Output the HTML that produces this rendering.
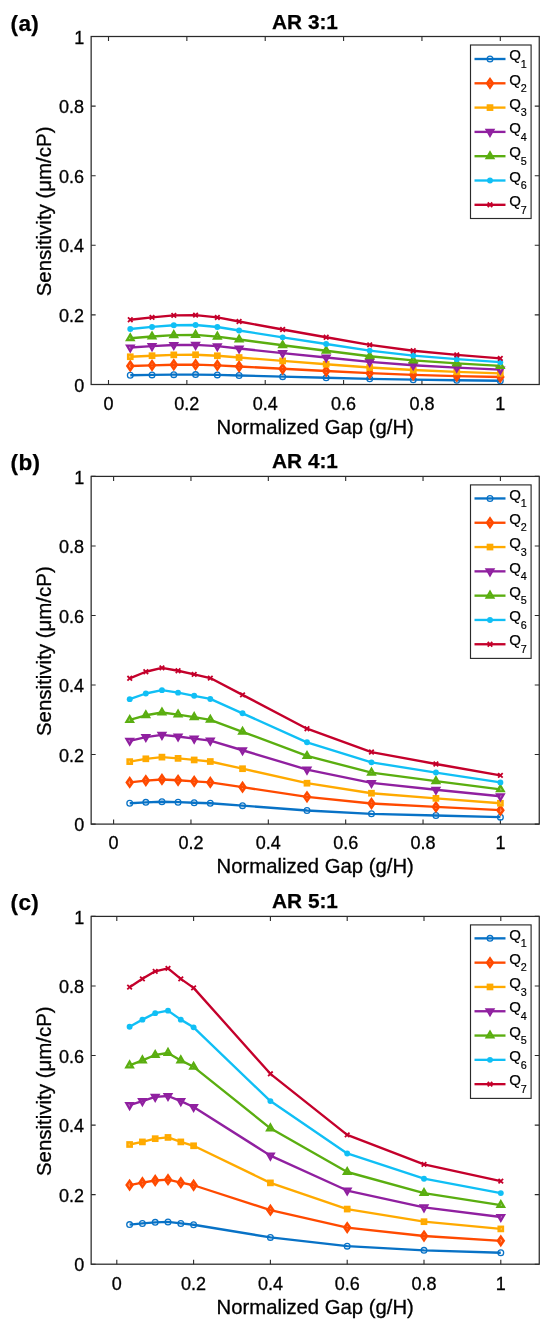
<!DOCTYPE html>
<html lang="en"><head><meta charset="utf-8"><title>Sensitivity vs Normalized Gap</title>
<style>html,body{margin:0;padding:0;background:#fff}svg{display:block}</style></head>
<body>
<svg width="550" height="1325" viewBox="0 0 550 1325" font-family='"Liberation Sans", Arial, Helvetica, sans-serif'>
<rect width="550" height="1325" fill="#fff"/>
<path d="M108.5 384.5v-4.5M108.5 36.5v4.5M91.15 384.5h4.5M539.25 384.5h-4.5M186.86 384.5v-4.5M186.86 36.5v4.5M91.15 314.9h4.5M539.25 314.9h-4.5M265.22 384.5v-4.5M265.22 36.5v4.5M91.15 245.3h4.5M539.25 245.3h-4.5M343.58 384.5v-4.5M343.58 36.5v4.5M91.15 175.7h4.5M539.25 175.7h-4.5M421.94 384.5v-4.5M421.94 36.5v4.5M91.15 106.1h4.5M539.25 106.1h-4.5M500.3 384.5v-4.5M500.3 36.5v4.5M91.15 36.5h4.5M539.25 36.5h-4.5" stroke="#2a2a2a" stroke-width="1.1" fill="none"/>
<rect x="91.15" y="36.5" width="448.1" height="348" fill="none" stroke="#2a2a2a" stroke-width="1.25"/>
<g font-size="18" fill="#000" stroke="#000" stroke-width="0.3">
<text x="108.5" y="409.8" text-anchor="middle">0</text>
<text x="84.15" y="391.6" text-anchor="end">0</text>
<text x="186.86" y="409.8" text-anchor="middle">0.2</text>
<text x="84.15" y="322" text-anchor="end">0.2</text>
<text x="265.22" y="409.8" text-anchor="middle">0.4</text>
<text x="84.15" y="252.4" text-anchor="end">0.4</text>
<text x="343.58" y="409.8" text-anchor="middle">0.6</text>
<text x="84.15" y="182.8" text-anchor="end">0.6</text>
<text x="421.94" y="409.8" text-anchor="middle">0.8</text>
<text x="84.15" y="113.2" text-anchor="end">0.8</text>
<text x="500.3" y="409.8" text-anchor="middle">1</text>
<text x="84.15" y="43.6" text-anchor="end">1</text>
</g>
<text x="315.2" y="433.8" font-size="20.3" fill="#000" stroke="#000" stroke-width="0.3" text-anchor="middle">Normalized Gap (g/H)</text>
<text transform="translate(50.5 211.4) rotate(-90)" font-size="20.47" fill="#000" stroke="#000" stroke-width="0.3" text-anchor="middle">Sensitivity (μm/cP)</text>
<text x="305" y="28.6" font-size="20.8" font-weight="bold" fill="#000" stroke="#000" stroke-width="0.25" text-anchor="middle">AR 3:1</text>
<text x="10.6" y="30.8" font-size="22.5" letter-spacing="0.3" font-weight="bold" fill="#000" stroke="#000" stroke-width="0.25">(a)</text>
<polyline points="130.27,375.25 152.03,374.91 173.8,374.63 195.57,374.58 217.33,374.92 239.1,375.5 282.63,376.65 326.17,377.75 369.7,378.85 413.23,379.68 456.77,380.27 500.3,380.77" fill="none" stroke="#0872C6" stroke-width="2.35" stroke-linejoin="round"/>
<circle cx="130.27" cy="375.25" r="2.85" stroke="#0872C6" stroke-width="1.3" fill="#0872C6" fill-opacity="0" stroke-linejoin="miter"/><circle cx="152.03" cy="374.91" r="2.85" stroke="#0872C6" stroke-width="1.3" fill="#0872C6" fill-opacity="0" stroke-linejoin="miter"/><circle cx="173.8" cy="374.63" r="2.85" stroke="#0872C6" stroke-width="1.3" fill="#0872C6" fill-opacity="0" stroke-linejoin="miter"/><circle cx="195.57" cy="374.58" r="2.85" stroke="#0872C6" stroke-width="1.3" fill="#0872C6" fill-opacity="0" stroke-linejoin="miter"/><circle cx="217.33" cy="374.92" r="2.85" stroke="#0872C6" stroke-width="1.3" fill="#0872C6" fill-opacity="0" stroke-linejoin="miter"/><circle cx="239.1" cy="375.5" r="2.85" stroke="#0872C6" stroke-width="1.3" fill="#0872C6" fill-opacity="0" stroke-linejoin="miter"/><circle cx="282.63" cy="376.65" r="2.85" stroke="#0872C6" stroke-width="1.3" fill="#0872C6" fill-opacity="0" stroke-linejoin="miter"/><circle cx="326.17" cy="377.75" r="2.85" stroke="#0872C6" stroke-width="1.3" fill="#0872C6" fill-opacity="0" stroke-linejoin="miter"/><circle cx="369.7" cy="378.85" r="2.85" stroke="#0872C6" stroke-width="1.3" fill="#0872C6" fill-opacity="0" stroke-linejoin="miter"/><circle cx="413.23" cy="379.68" r="2.85" stroke="#0872C6" stroke-width="1.3" fill="#0872C6" fill-opacity="0" stroke-linejoin="miter"/><circle cx="456.77" cy="380.27" r="2.85" stroke="#0872C6" stroke-width="1.3" fill="#0872C6" fill-opacity="0" stroke-linejoin="miter"/><circle cx="500.3" cy="380.77" r="2.85" stroke="#0872C6" stroke-width="1.3" fill="#0872C6" fill-opacity="0" stroke-linejoin="miter"/>
<polyline points="130.27,366.01 152.03,365.31 173.8,364.75 195.57,364.66 217.33,365.34 239.1,366.5 282.63,368.79 326.17,371.01 369.7,373.19 413.23,374.86 456.77,376.05 500.3,377.04" fill="none" stroke="#FF4A00" stroke-width="2.35" stroke-linejoin="round"/>
<path d="M130.27 361.81L133.17 366.01L130.27 370.21L127.37 366.01Z" stroke="#FF4A00" stroke-width="2.5" fill="#FF4A00" fill-opacity="0.5" stroke-linejoin="miter"/><path d="M152.03 361.11L154.93 365.31L152.03 369.51L149.13 365.31Z" stroke="#FF4A00" stroke-width="2.5" fill="#FF4A00" fill-opacity="0.5" stroke-linejoin="miter"/><path d="M173.8 360.55L176.7 364.75L173.8 368.95L170.9 364.75Z" stroke="#FF4A00" stroke-width="2.5" fill="#FF4A00" fill-opacity="0.5" stroke-linejoin="miter"/><path d="M195.57 360.46L198.47 364.66L195.57 368.86L192.67 364.66Z" stroke="#FF4A00" stroke-width="2.5" fill="#FF4A00" fill-opacity="0.5" stroke-linejoin="miter"/><path d="M217.33 361.14L220.23 365.34L217.33 369.54L214.43 365.34Z" stroke="#FF4A00" stroke-width="2.5" fill="#FF4A00" fill-opacity="0.5" stroke-linejoin="miter"/><path d="M239.1 362.3L242 366.5L239.1 370.7L236.2 366.5Z" stroke="#FF4A00" stroke-width="2.5" fill="#FF4A00" fill-opacity="0.5" stroke-linejoin="miter"/><path d="M282.63 364.59L285.53 368.79L282.63 372.99L279.73 368.79Z" stroke="#FF4A00" stroke-width="2.5" fill="#FF4A00" fill-opacity="0.5" stroke-linejoin="miter"/><path d="M326.17 366.81L329.07 371.01L326.17 375.21L323.27 371.01Z" stroke="#FF4A00" stroke-width="2.5" fill="#FF4A00" fill-opacity="0.5" stroke-linejoin="miter"/><path d="M369.7 368.99L372.6 373.19L369.7 377.39L366.8 373.19Z" stroke="#FF4A00" stroke-width="2.5" fill="#FF4A00" fill-opacity="0.5" stroke-linejoin="miter"/><path d="M413.23 370.66L416.13 374.86L413.23 379.06L410.33 374.86Z" stroke="#FF4A00" stroke-width="2.5" fill="#FF4A00" fill-opacity="0.5" stroke-linejoin="miter"/><path d="M456.77 371.85L459.67 376.05L456.77 380.25L453.87 376.05Z" stroke="#FF4A00" stroke-width="2.5" fill="#FF4A00" fill-opacity="0.5" stroke-linejoin="miter"/><path d="M500.3 372.84L503.2 377.04L500.3 381.24L497.4 377.04Z" stroke="#FF4A00" stroke-width="2.5" fill="#FF4A00" fill-opacity="0.5" stroke-linejoin="miter"/>
<polyline points="130.27,356.76 152.03,355.72 173.8,354.88 195.57,354.75 217.33,355.76 239.1,357.51 282.63,360.94 326.17,364.26 369.7,367.54 413.23,370.03 456.77,371.82 500.3,373.31" fill="none" stroke="#FFAA00" stroke-width="2.35" stroke-linejoin="round"/>
<rect x="128.17" y="354.66" width="4.2" height="4.2" stroke="#FFAA00" stroke-width="2.5" fill="#FFAA00" fill-opacity="0.5" stroke-linejoin="miter"/><rect x="149.93" y="353.62" width="4.2" height="4.2" stroke="#FFAA00" stroke-width="2.5" fill="#FFAA00" fill-opacity="0.5" stroke-linejoin="miter"/><rect x="171.7" y="352.78" width="4.2" height="4.2" stroke="#FFAA00" stroke-width="2.5" fill="#FFAA00" fill-opacity="0.5" stroke-linejoin="miter"/><rect x="193.47" y="352.65" width="4.2" height="4.2" stroke="#FFAA00" stroke-width="2.5" fill="#FFAA00" fill-opacity="0.5" stroke-linejoin="miter"/><rect x="215.23" y="353.66" width="4.2" height="4.2" stroke="#FFAA00" stroke-width="2.5" fill="#FFAA00" fill-opacity="0.5" stroke-linejoin="miter"/><rect x="237" y="355.41" width="4.2" height="4.2" stroke="#FFAA00" stroke-width="2.5" fill="#FFAA00" fill-opacity="0.5" stroke-linejoin="miter"/><rect x="280.53" y="358.84" width="4.2" height="4.2" stroke="#FFAA00" stroke-width="2.5" fill="#FFAA00" fill-opacity="0.5" stroke-linejoin="miter"/><rect x="324.07" y="362.16" width="4.2" height="4.2" stroke="#FFAA00" stroke-width="2.5" fill="#FFAA00" fill-opacity="0.5" stroke-linejoin="miter"/><rect x="367.6" y="365.44" width="4.2" height="4.2" stroke="#FFAA00" stroke-width="2.5" fill="#FFAA00" fill-opacity="0.5" stroke-linejoin="miter"/><rect x="411.13" y="367.93" width="4.2" height="4.2" stroke="#FFAA00" stroke-width="2.5" fill="#FFAA00" fill-opacity="0.5" stroke-linejoin="miter"/><rect x="454.67" y="369.72" width="4.2" height="4.2" stroke="#FFAA00" stroke-width="2.5" fill="#FFAA00" fill-opacity="0.5" stroke-linejoin="miter"/><rect x="498.2" y="371.21" width="4.2" height="4.2" stroke="#FFAA00" stroke-width="2.5" fill="#FFAA00" fill-opacity="0.5" stroke-linejoin="miter"/>
<polyline points="130.27,347.51 152.03,346.12 173.8,345.01 195.57,344.83 217.33,346.18 239.1,348.51 282.63,353.08 326.17,357.52 369.7,361.89 413.23,365.21 456.77,367.6 500.3,369.59" fill="none" stroke="#9020A0" stroke-width="2.35" stroke-linejoin="round"/>
<path d="M126.92 345.58L133.62 345.58L130.27 351.38Z" stroke="#9020A0" stroke-width="2.2" fill="#9020A0" fill-opacity="0.5" stroke-linejoin="miter"/><path d="M148.68 344.19L155.38 344.19L152.03 349.99Z" stroke="#9020A0" stroke-width="2.2" fill="#9020A0" fill-opacity="0.5" stroke-linejoin="miter"/><path d="M170.45 343.08L177.15 343.08L173.8 348.88Z" stroke="#9020A0" stroke-width="2.2" fill="#9020A0" fill-opacity="0.5" stroke-linejoin="miter"/><path d="M192.22 342.9L198.92 342.9L195.57 348.7Z" stroke="#9020A0" stroke-width="2.2" fill="#9020A0" fill-opacity="0.5" stroke-linejoin="miter"/><path d="M213.98 344.25L220.68 344.25L217.33 350.05Z" stroke="#9020A0" stroke-width="2.2" fill="#9020A0" fill-opacity="0.5" stroke-linejoin="miter"/><path d="M235.75 346.58L242.45 346.58L239.1 352.38Z" stroke="#9020A0" stroke-width="2.2" fill="#9020A0" fill-opacity="0.5" stroke-linejoin="miter"/><path d="M279.28 351.15L285.98 351.15L282.63 356.95Z" stroke="#9020A0" stroke-width="2.2" fill="#9020A0" fill-opacity="0.5" stroke-linejoin="miter"/><path d="M322.82 355.59L329.52 355.59L326.17 361.39Z" stroke="#9020A0" stroke-width="2.2" fill="#9020A0" fill-opacity="0.5" stroke-linejoin="miter"/><path d="M366.35 359.96L373.05 359.96L369.7 365.76Z" stroke="#9020A0" stroke-width="2.2" fill="#9020A0" fill-opacity="0.5" stroke-linejoin="miter"/><path d="M409.88 363.28L416.58 363.28L413.23 369.08Z" stroke="#9020A0" stroke-width="2.2" fill="#9020A0" fill-opacity="0.5" stroke-linejoin="miter"/><path d="M453.42 365.67L460.12 365.67L456.77 371.47Z" stroke="#9020A0" stroke-width="2.2" fill="#9020A0" fill-opacity="0.5" stroke-linejoin="miter"/><path d="M496.95 367.66L503.65 367.66L500.3 373.46Z" stroke="#9020A0" stroke-width="2.2" fill="#9020A0" fill-opacity="0.5" stroke-linejoin="miter"/>
<polyline points="130.27,338.27 152.03,336.53 173.8,335.13 195.57,334.91 217.33,336.6 239.1,339.51 282.63,345.23 326.17,350.77 369.7,356.24 413.23,360.39 456.77,363.37 500.3,365.86" fill="none" stroke="#5AAE10" stroke-width="2.35" stroke-linejoin="round"/>
<path d="M126.92 340.2L133.62 340.2L130.27 334.4Z" stroke="#5AAE10" stroke-width="2.2" fill="#5AAE10" fill-opacity="0.5" stroke-linejoin="miter"/><path d="M148.68 338.46L155.38 338.46L152.03 332.66Z" stroke="#5AAE10" stroke-width="2.2" fill="#5AAE10" fill-opacity="0.5" stroke-linejoin="miter"/><path d="M170.45 337.06L177.15 337.06L173.8 331.26Z" stroke="#5AAE10" stroke-width="2.2" fill="#5AAE10" fill-opacity="0.5" stroke-linejoin="miter"/><path d="M192.22 336.84L198.92 336.84L195.57 331.04Z" stroke="#5AAE10" stroke-width="2.2" fill="#5AAE10" fill-opacity="0.5" stroke-linejoin="miter"/><path d="M213.98 338.53L220.68 338.53L217.33 332.73Z" stroke="#5AAE10" stroke-width="2.2" fill="#5AAE10" fill-opacity="0.5" stroke-linejoin="miter"/><path d="M235.75 341.44L242.45 341.44L239.1 335.64Z" stroke="#5AAE10" stroke-width="2.2" fill="#5AAE10" fill-opacity="0.5" stroke-linejoin="miter"/><path d="M279.28 347.16L285.98 347.16L282.63 341.36Z" stroke="#5AAE10" stroke-width="2.2" fill="#5AAE10" fill-opacity="0.5" stroke-linejoin="miter"/><path d="M322.82 352.7L329.52 352.7L326.17 346.9Z" stroke="#5AAE10" stroke-width="2.2" fill="#5AAE10" fill-opacity="0.5" stroke-linejoin="miter"/><path d="M366.35 358.17L373.05 358.17L369.7 352.37Z" stroke="#5AAE10" stroke-width="2.2" fill="#5AAE10" fill-opacity="0.5" stroke-linejoin="miter"/><path d="M409.88 362.32L416.58 362.32L413.23 356.52Z" stroke="#5AAE10" stroke-width="2.2" fill="#5AAE10" fill-opacity="0.5" stroke-linejoin="miter"/><path d="M453.42 365.3L460.12 365.3L456.77 359.5Z" stroke="#5AAE10" stroke-width="2.2" fill="#5AAE10" fill-opacity="0.5" stroke-linejoin="miter"/><path d="M496.95 367.79L503.65 367.79L500.3 361.99Z" stroke="#5AAE10" stroke-width="2.2" fill="#5AAE10" fill-opacity="0.5" stroke-linejoin="miter"/>
<polyline points="130.27,329.02 152.03,326.93 173.8,325.26 195.57,324.99 217.33,327.02 239.1,330.51 282.63,337.37 326.17,344.02 369.7,350.58 413.23,355.57 456.77,359.15 500.3,362.13" fill="none" stroke="#10BFF5" stroke-width="2.35" stroke-linejoin="round"/>
<circle cx="130.27" cy="329.02" r="2.95" fill="#10BFF5"/><circle cx="152.03" cy="326.93" r="2.95" fill="#10BFF5"/><circle cx="173.8" cy="325.26" r="2.95" fill="#10BFF5"/><circle cx="195.57" cy="324.99" r="2.95" fill="#10BFF5"/><circle cx="217.33" cy="327.02" r="2.95" fill="#10BFF5"/><circle cx="239.1" cy="330.51" r="2.95" fill="#10BFF5"/><circle cx="282.63" cy="337.37" r="2.95" fill="#10BFF5"/><circle cx="326.17" cy="344.02" r="2.95" fill="#10BFF5"/><circle cx="369.7" cy="350.58" r="2.95" fill="#10BFF5"/><circle cx="413.23" cy="355.57" r="2.95" fill="#10BFF5"/><circle cx="456.77" cy="359.15" r="2.95" fill="#10BFF5"/><circle cx="500.3" cy="362.13" r="2.95" fill="#10BFF5"/>
<polyline points="130.27,319.77 152.03,317.34 173.8,315.39 195.57,315.07 217.33,317.44 239.1,321.51 282.63,329.52 326.17,337.28 369.7,344.93 413.23,350.74 456.77,354.92 500.3,358.4" fill="none" stroke="#C4002B" stroke-width="2.35" stroke-linejoin="round"/>
<path d="M127.97 317.47L132.57 322.07M127.97 322.07L132.57 317.47" stroke="#C4002B" stroke-width="1.8" fill="none"/><path d="M149.73 315.04L154.33 319.64M149.73 319.64L154.33 315.04" stroke="#C4002B" stroke-width="1.8" fill="none"/><path d="M171.5 313.09L176.1 317.69M171.5 317.69L176.1 313.09" stroke="#C4002B" stroke-width="1.8" fill="none"/><path d="M193.27 312.77L197.87 317.37M193.27 317.37L197.87 312.77" stroke="#C4002B" stroke-width="1.8" fill="none"/><path d="M215.03 315.14L219.63 319.74M215.03 319.74L219.63 315.14" stroke="#C4002B" stroke-width="1.8" fill="none"/><path d="M236.8 319.21L241.4 323.81M236.8 323.81L241.4 319.21" stroke="#C4002B" stroke-width="1.8" fill="none"/><path d="M280.33 327.22L284.93 331.82M280.33 331.82L284.93 327.22" stroke="#C4002B" stroke-width="1.8" fill="none"/><path d="M323.87 334.98L328.47 339.58M323.87 339.58L328.47 334.98" stroke="#C4002B" stroke-width="1.8" fill="none"/><path d="M367.4 342.63L372 347.23M367.4 347.23L372 342.63" stroke="#C4002B" stroke-width="1.8" fill="none"/><path d="M410.93 348.44L415.53 353.04M410.93 353.04L415.53 348.44" stroke="#C4002B" stroke-width="1.8" fill="none"/><path d="M454.47 352.62L459.07 357.22M454.47 357.22L459.07 352.62" stroke="#C4002B" stroke-width="1.8" fill="none"/><path d="M498 356.1L502.6 360.7M498 360.7L502.6 356.1" stroke="#C4002B" stroke-width="1.8" fill="none"/>
<rect x="470.5" y="45" width="60.6" height="173.5" fill="#fff" stroke="#2a2a2a" stroke-width="1.15"/>
<path d="M474.5 59H505.5" stroke="#0872C6" stroke-width="2.35"/>
<circle cx="490" cy="59" r="2.85" stroke="#0872C6" stroke-width="1.3" fill="#0872C6" fill-opacity="0" stroke-linejoin="miter"/>
<text x="509.2" y="60.2" font-size="15" fill="#000" stroke="#000" stroke-width="0.2">Q<tspan dy="7.5" font-size="10.8">1</tspan></text>
<path d="M474.5 83.3H505.5" stroke="#FF4A00" stroke-width="2.35"/>
<path d="M490 79.1L492.9 83.3L490 87.5L487.1 83.3Z" stroke="#FF4A00" stroke-width="2.5" fill="#FF4A00" fill-opacity="0.5" stroke-linejoin="miter"/>
<text x="509.2" y="84.5" font-size="15" fill="#000" stroke="#000" stroke-width="0.2">Q<tspan dy="7.5" font-size="10.8">2</tspan></text>
<path d="M474.5 107.6H505.5" stroke="#FFAA00" stroke-width="2.35"/>
<rect x="487.9" y="105.5" width="4.2" height="4.2" stroke="#FFAA00" stroke-width="2.5" fill="#FFAA00" fill-opacity="0.5" stroke-linejoin="miter"/>
<text x="509.2" y="108.8" font-size="15" fill="#000" stroke="#000" stroke-width="0.2">Q<tspan dy="7.5" font-size="10.8">3</tspan></text>
<path d="M474.5 131.9H505.5" stroke="#9020A0" stroke-width="2.35"/>
<path d="M486.65 129.97L493.35 129.97L490 135.77Z" stroke="#9020A0" stroke-width="2.2" fill="#9020A0" fill-opacity="0.5" stroke-linejoin="miter"/>
<text x="509.2" y="133.1" font-size="15" fill="#000" stroke="#000" stroke-width="0.2">Q<tspan dy="7.5" font-size="10.8">4</tspan></text>
<path d="M474.5 156.2H505.5" stroke="#5AAE10" stroke-width="2.35"/>
<path d="M486.65 158.13L493.35 158.13L490 152.33Z" stroke="#5AAE10" stroke-width="2.2" fill="#5AAE10" fill-opacity="0.5" stroke-linejoin="miter"/>
<text x="509.2" y="157.4" font-size="15" fill="#000" stroke="#000" stroke-width="0.2">Q<tspan dy="7.5" font-size="10.8">5</tspan></text>
<path d="M474.5 180.5H505.5" stroke="#10BFF5" stroke-width="2.35"/>
<circle cx="490" cy="180.5" r="2.95" fill="#10BFF5"/>
<text x="509.2" y="181.7" font-size="15" fill="#000" stroke="#000" stroke-width="0.2">Q<tspan dy="7.5" font-size="10.8">6</tspan></text>
<path d="M474.5 204.8H505.5" stroke="#C4002B" stroke-width="2.35"/>
<path d="M487.7 202.5L492.3 207.1M487.7 207.1L492.3 202.5" stroke="#C4002B" stroke-width="1.8" fill="none"/>
<text x="509.2" y="206" font-size="15" fill="#000" stroke="#000" stroke-width="0.2">Q<tspan dy="7.5" font-size="10.8">7</tspan></text>
<path d="M113.6 824.1v-4.5M113.6 476.4v4.5M91.15 824.1h4.5M539.25 824.1h-4.5M190.96 824.1v-4.5M190.96 476.4v4.5M91.15 754.56h4.5M539.25 754.56h-4.5M268.32 824.1v-4.5M268.32 476.4v4.5M91.15 685.02h4.5M539.25 685.02h-4.5M345.68 824.1v-4.5M345.68 476.4v4.5M91.15 615.48h4.5M539.25 615.48h-4.5M423.04 824.1v-4.5M423.04 476.4v4.5M91.15 545.94h4.5M539.25 545.94h-4.5M500.4 824.1v-4.5M500.4 476.4v4.5M91.15 476.4h4.5M539.25 476.4h-4.5" stroke="#2a2a2a" stroke-width="1.1" fill="none"/>
<rect x="91.15" y="476.4" width="448.1" height="347.7" fill="none" stroke="#2a2a2a" stroke-width="1.25"/>
<g font-size="18" fill="#000" stroke="#000" stroke-width="0.3">
<text x="113.6" y="849.4" text-anchor="middle">0</text>
<text x="84.15" y="831.2" text-anchor="end">0</text>
<text x="190.96" y="849.4" text-anchor="middle">0.2</text>
<text x="84.15" y="761.66" text-anchor="end">0.2</text>
<text x="268.32" y="849.4" text-anchor="middle">0.4</text>
<text x="84.15" y="692.12" text-anchor="end">0.4</text>
<text x="345.68" y="849.4" text-anchor="middle">0.6</text>
<text x="84.15" y="622.58" text-anchor="end">0.6</text>
<text x="423.04" y="849.4" text-anchor="middle">0.8</text>
<text x="84.15" y="553.04" text-anchor="end">0.8</text>
<text x="500.4" y="849.4" text-anchor="middle">1</text>
<text x="84.15" y="483.5" text-anchor="end">1</text>
</g>
<text x="315.2" y="873.4" font-size="20.3" fill="#000" stroke="#000" stroke-width="0.3" text-anchor="middle">Normalized Gap (g/H)</text>
<text transform="translate(50.5 651.15) rotate(-90)" font-size="20.47" fill="#000" stroke="#000" stroke-width="0.3" text-anchor="middle">Sensitivity (μm/cP)</text>
<text x="305" y="468" font-size="20.8" font-weight="bold" fill="#000" stroke="#000" stroke-width="0.25" text-anchor="middle">AR 4:1</text>
<text x="10.6" y="470.2" font-size="22.5" letter-spacing="0.3" font-weight="bold" fill="#000" stroke="#000" stroke-width="0.25">(b)</text>
<polyline points="129.72,803.27 145.83,802.33 161.95,801.78 178.07,802.19 194.18,802.72 210.3,803.24 242.53,805.64 307,810.47 371.47,813.81 435.93,815.51 500.4,817.15" fill="none" stroke="#0872C6" stroke-width="2.35" stroke-linejoin="round"/>
<circle cx="129.72" cy="803.27" r="2.85" stroke="#0872C6" stroke-width="1.3" fill="#0872C6" fill-opacity="0" stroke-linejoin="miter"/><circle cx="145.83" cy="802.33" r="2.85" stroke="#0872C6" stroke-width="1.3" fill="#0872C6" fill-opacity="0" stroke-linejoin="miter"/><circle cx="161.95" cy="801.78" r="2.85" stroke="#0872C6" stroke-width="1.3" fill="#0872C6" fill-opacity="0" stroke-linejoin="miter"/><circle cx="178.07" cy="802.19" r="2.85" stroke="#0872C6" stroke-width="1.3" fill="#0872C6" fill-opacity="0" stroke-linejoin="miter"/><circle cx="194.18" cy="802.72" r="2.85" stroke="#0872C6" stroke-width="1.3" fill="#0872C6" fill-opacity="0" stroke-linejoin="miter"/><circle cx="210.3" cy="803.24" r="2.85" stroke="#0872C6" stroke-width="1.3" fill="#0872C6" fill-opacity="0" stroke-linejoin="miter"/><circle cx="242.53" cy="805.64" r="2.85" stroke="#0872C6" stroke-width="1.3" fill="#0872C6" fill-opacity="0" stroke-linejoin="miter"/><circle cx="307" cy="810.47" r="2.85" stroke="#0872C6" stroke-width="1.3" fill="#0872C6" fill-opacity="0" stroke-linejoin="miter"/><circle cx="371.47" cy="813.81" r="2.85" stroke="#0872C6" stroke-width="1.3" fill="#0872C6" fill-opacity="0" stroke-linejoin="miter"/><circle cx="435.93" cy="815.51" r="2.85" stroke="#0872C6" stroke-width="1.3" fill="#0872C6" fill-opacity="0" stroke-linejoin="miter"/><circle cx="500.4" cy="817.15" r="2.85" stroke="#0872C6" stroke-width="1.3" fill="#0872C6" fill-opacity="0" stroke-linejoin="miter"/>
<polyline points="129.72,782.45 145.83,780.57 161.95,779.46 178.07,780.29 194.18,781.33 210.3,782.38 242.53,787.17 307,796.84 371.47,803.52 435.93,806.92 500.4,810.19" fill="none" stroke="#FF4A00" stroke-width="2.35" stroke-linejoin="round"/>
<path d="M129.72 778.25L132.62 782.45L129.72 786.65L126.82 782.45Z" stroke="#FF4A00" stroke-width="2.5" fill="#FF4A00" fill-opacity="0.5" stroke-linejoin="miter"/><path d="M145.83 776.37L148.73 780.57L145.83 784.77L142.93 780.57Z" stroke="#FF4A00" stroke-width="2.5" fill="#FF4A00" fill-opacity="0.5" stroke-linejoin="miter"/><path d="M161.95 775.26L164.85 779.46L161.95 783.66L159.05 779.46Z" stroke="#FF4A00" stroke-width="2.5" fill="#FF4A00" fill-opacity="0.5" stroke-linejoin="miter"/><path d="M178.07 776.09L180.97 780.29L178.07 784.49L175.17 780.29Z" stroke="#FF4A00" stroke-width="2.5" fill="#FF4A00" fill-opacity="0.5" stroke-linejoin="miter"/><path d="M194.18 777.13L197.08 781.33L194.18 785.53L191.28 781.33Z" stroke="#FF4A00" stroke-width="2.5" fill="#FF4A00" fill-opacity="0.5" stroke-linejoin="miter"/><path d="M210.3 778.18L213.2 782.38L210.3 786.58L207.4 782.38Z" stroke="#FF4A00" stroke-width="2.5" fill="#FF4A00" fill-opacity="0.5" stroke-linejoin="miter"/><path d="M242.53 782.97L245.43 787.17L242.53 791.37L239.63 787.17Z" stroke="#FF4A00" stroke-width="2.5" fill="#FF4A00" fill-opacity="0.5" stroke-linejoin="miter"/><path d="M307 792.64L309.9 796.84L307 801.04L304.1 796.84Z" stroke="#FF4A00" stroke-width="2.5" fill="#FF4A00" fill-opacity="0.5" stroke-linejoin="miter"/><path d="M371.47 799.32L374.37 803.52L371.47 807.72L368.57 803.52Z" stroke="#FF4A00" stroke-width="2.5" fill="#FF4A00" fill-opacity="0.5" stroke-linejoin="miter"/><path d="M435.93 802.72L438.83 806.92L435.93 811.12L433.03 806.92Z" stroke="#FF4A00" stroke-width="2.5" fill="#FF4A00" fill-opacity="0.5" stroke-linejoin="miter"/><path d="M500.4 805.99L503.3 810.19L500.4 814.39L497.5 810.19Z" stroke="#FF4A00" stroke-width="2.5" fill="#FF4A00" fill-opacity="0.5" stroke-linejoin="miter"/>
<polyline points="129.72,761.62 145.83,758.8 161.95,757.13 178.07,758.38 194.18,759.95 210.3,761.51 242.53,768.71 307,783.21 371.47,793.22 435.93,798.34 500.4,803.24" fill="none" stroke="#FFAA00" stroke-width="2.35" stroke-linejoin="round"/>
<rect x="127.62" y="759.52" width="4.2" height="4.2" stroke="#FFAA00" stroke-width="2.5" fill="#FFAA00" fill-opacity="0.5" stroke-linejoin="miter"/><rect x="143.73" y="756.7" width="4.2" height="4.2" stroke="#FFAA00" stroke-width="2.5" fill="#FFAA00" fill-opacity="0.5" stroke-linejoin="miter"/><rect x="159.85" y="755.03" width="4.2" height="4.2" stroke="#FFAA00" stroke-width="2.5" fill="#FFAA00" fill-opacity="0.5" stroke-linejoin="miter"/><rect x="175.97" y="756.28" width="4.2" height="4.2" stroke="#FFAA00" stroke-width="2.5" fill="#FFAA00" fill-opacity="0.5" stroke-linejoin="miter"/><rect x="192.08" y="757.85" width="4.2" height="4.2" stroke="#FFAA00" stroke-width="2.5" fill="#FFAA00" fill-opacity="0.5" stroke-linejoin="miter"/><rect x="208.2" y="759.41" width="4.2" height="4.2" stroke="#FFAA00" stroke-width="2.5" fill="#FFAA00" fill-opacity="0.5" stroke-linejoin="miter"/><rect x="240.43" y="766.61" width="4.2" height="4.2" stroke="#FFAA00" stroke-width="2.5" fill="#FFAA00" fill-opacity="0.5" stroke-linejoin="miter"/><rect x="304.9" y="781.11" width="4.2" height="4.2" stroke="#FFAA00" stroke-width="2.5" fill="#FFAA00" fill-opacity="0.5" stroke-linejoin="miter"/><rect x="369.37" y="791.12" width="4.2" height="4.2" stroke="#FFAA00" stroke-width="2.5" fill="#FFAA00" fill-opacity="0.5" stroke-linejoin="miter"/><rect x="433.83" y="796.24" width="4.2" height="4.2" stroke="#FFAA00" stroke-width="2.5" fill="#FFAA00" fill-opacity="0.5" stroke-linejoin="miter"/><rect x="498.3" y="801.14" width="4.2" height="4.2" stroke="#FFAA00" stroke-width="2.5" fill="#FFAA00" fill-opacity="0.5" stroke-linejoin="miter"/>
<polyline points="129.72,740.79 145.83,737.04 161.95,734.81 178.07,736.48 194.18,738.57 210.3,740.65 242.53,750.25 307,769.58 371.47,782.93 435.93,789.75 500.4,796.28" fill="none" stroke="#9020A0" stroke-width="2.35" stroke-linejoin="round"/>
<path d="M126.37 738.86L133.07 738.86L129.72 744.66Z" stroke="#9020A0" stroke-width="2.2" fill="#9020A0" fill-opacity="0.5" stroke-linejoin="miter"/><path d="M142.48 735.11L149.18 735.11L145.83 740.91Z" stroke="#9020A0" stroke-width="2.2" fill="#9020A0" fill-opacity="0.5" stroke-linejoin="miter"/><path d="M158.6 732.88L165.3 732.88L161.95 738.68Z" stroke="#9020A0" stroke-width="2.2" fill="#9020A0" fill-opacity="0.5" stroke-linejoin="miter"/><path d="M174.72 734.55L181.42 734.55L178.07 740.35Z" stroke="#9020A0" stroke-width="2.2" fill="#9020A0" fill-opacity="0.5" stroke-linejoin="miter"/><path d="M190.83 736.64L197.53 736.64L194.18 742.44Z" stroke="#9020A0" stroke-width="2.2" fill="#9020A0" fill-opacity="0.5" stroke-linejoin="miter"/><path d="M206.95 738.72L213.65 738.72L210.3 744.52Z" stroke="#9020A0" stroke-width="2.2" fill="#9020A0" fill-opacity="0.5" stroke-linejoin="miter"/><path d="M239.18 748.32L245.88 748.32L242.53 754.12Z" stroke="#9020A0" stroke-width="2.2" fill="#9020A0" fill-opacity="0.5" stroke-linejoin="miter"/><path d="M303.65 767.65L310.35 767.65L307 773.45Z" stroke="#9020A0" stroke-width="2.2" fill="#9020A0" fill-opacity="0.5" stroke-linejoin="miter"/><path d="M368.12 781L374.82 781L371.47 786.8Z" stroke="#9020A0" stroke-width="2.2" fill="#9020A0" fill-opacity="0.5" stroke-linejoin="miter"/><path d="M432.58 787.82L439.28 787.82L435.93 793.62Z" stroke="#9020A0" stroke-width="2.2" fill="#9020A0" fill-opacity="0.5" stroke-linejoin="miter"/><path d="M497.05 794.35L503.75 794.35L500.4 800.15Z" stroke="#9020A0" stroke-width="2.2" fill="#9020A0" fill-opacity="0.5" stroke-linejoin="miter"/>
<polyline points="129.72,719.96 145.83,715.27 161.95,712.49 178.07,714.57 194.18,717.18 210.3,719.79 242.53,731.79 307,755.95 371.47,772.64 435.93,781.16 500.4,789.33" fill="none" stroke="#5AAE10" stroke-width="2.35" stroke-linejoin="round"/>
<path d="M126.37 721.89L133.07 721.89L129.72 716.09Z" stroke="#5AAE10" stroke-width="2.2" fill="#5AAE10" fill-opacity="0.5" stroke-linejoin="miter"/><path d="M142.48 717.2L149.18 717.2L145.83 711.4Z" stroke="#5AAE10" stroke-width="2.2" fill="#5AAE10" fill-opacity="0.5" stroke-linejoin="miter"/><path d="M158.6 714.42L165.3 714.42L161.95 708.62Z" stroke="#5AAE10" stroke-width="2.2" fill="#5AAE10" fill-opacity="0.5" stroke-linejoin="miter"/><path d="M174.72 716.5L181.42 716.5L178.07 710.7Z" stroke="#5AAE10" stroke-width="2.2" fill="#5AAE10" fill-opacity="0.5" stroke-linejoin="miter"/><path d="M190.83 719.11L197.53 719.11L194.18 713.31Z" stroke="#5AAE10" stroke-width="2.2" fill="#5AAE10" fill-opacity="0.5" stroke-linejoin="miter"/><path d="M206.95 721.72L213.65 721.72L210.3 715.92Z" stroke="#5AAE10" stroke-width="2.2" fill="#5AAE10" fill-opacity="0.5" stroke-linejoin="miter"/><path d="M239.18 733.72L245.88 733.72L242.53 727.92Z" stroke="#5AAE10" stroke-width="2.2" fill="#5AAE10" fill-opacity="0.5" stroke-linejoin="miter"/><path d="M303.65 757.88L310.35 757.88L307 752.08Z" stroke="#5AAE10" stroke-width="2.2" fill="#5AAE10" fill-opacity="0.5" stroke-linejoin="miter"/><path d="M368.12 774.57L374.82 774.57L371.47 768.77Z" stroke="#5AAE10" stroke-width="2.2" fill="#5AAE10" fill-opacity="0.5" stroke-linejoin="miter"/><path d="M432.58 783.09L439.28 783.09L435.93 777.29Z" stroke="#5AAE10" stroke-width="2.2" fill="#5AAE10" fill-opacity="0.5" stroke-linejoin="miter"/><path d="M497.05 791.26L503.75 791.26L500.4 785.46Z" stroke="#5AAE10" stroke-width="2.2" fill="#5AAE10" fill-opacity="0.5" stroke-linejoin="miter"/>
<polyline points="129.72,699.14 145.83,693.5 161.95,690.17 178.07,692.67 194.18,695.8 210.3,698.93 242.53,713.32 307,742.32 371.47,762.35 435.93,772.57 500.4,782.38" fill="none" stroke="#10BFF5" stroke-width="2.35" stroke-linejoin="round"/>
<circle cx="129.72" cy="699.14" r="2.95" fill="#10BFF5"/><circle cx="145.83" cy="693.5" r="2.95" fill="#10BFF5"/><circle cx="161.95" cy="690.17" r="2.95" fill="#10BFF5"/><circle cx="178.07" cy="692.67" r="2.95" fill="#10BFF5"/><circle cx="194.18" cy="695.8" r="2.95" fill="#10BFF5"/><circle cx="210.3" cy="698.93" r="2.95" fill="#10BFF5"/><circle cx="242.53" cy="713.32" r="2.95" fill="#10BFF5"/><circle cx="307" cy="742.32" r="2.95" fill="#10BFF5"/><circle cx="371.47" cy="762.35" r="2.95" fill="#10BFF5"/><circle cx="435.93" cy="772.57" r="2.95" fill="#10BFF5"/><circle cx="500.4" cy="782.38" r="2.95" fill="#10BFF5"/>
<polyline points="129.72,678.31 145.83,671.74 161.95,667.84 178.07,670.76 194.18,674.42 210.3,678.07 242.53,694.86 307,728.69 371.47,752.06 435.93,763.98 500.4,775.42" fill="none" stroke="#C4002B" stroke-width="2.35" stroke-linejoin="round"/>
<path d="M127.42 676.01L132.02 680.61M127.42 680.61L132.02 676.01" stroke="#C4002B" stroke-width="1.8" fill="none"/><path d="M143.53 669.44L148.13 674.04M143.53 674.04L148.13 669.44" stroke="#C4002B" stroke-width="1.8" fill="none"/><path d="M159.65 665.54L164.25 670.14M159.65 670.14L164.25 665.54" stroke="#C4002B" stroke-width="1.8" fill="none"/><path d="M175.77 668.46L180.37 673.06M175.77 673.06L180.37 668.46" stroke="#C4002B" stroke-width="1.8" fill="none"/><path d="M191.88 672.12L196.48 676.72M191.88 676.72L196.48 672.12" stroke="#C4002B" stroke-width="1.8" fill="none"/><path d="M208 675.77L212.6 680.37M208 680.37L212.6 675.77" stroke="#C4002B" stroke-width="1.8" fill="none"/><path d="M240.23 692.56L244.83 697.16M240.23 697.16L244.83 692.56" stroke="#C4002B" stroke-width="1.8" fill="none"/><path d="M304.7 726.39L309.3 730.99M304.7 730.99L309.3 726.39" stroke="#C4002B" stroke-width="1.8" fill="none"/><path d="M369.17 749.76L373.77 754.36M369.17 754.36L373.77 749.76" stroke="#C4002B" stroke-width="1.8" fill="none"/><path d="M433.63 761.68L438.23 766.28M433.63 766.28L438.23 761.68" stroke="#C4002B" stroke-width="1.8" fill="none"/><path d="M498.1 773.12L502.7 777.72M498.1 777.72L502.7 773.12" stroke="#C4002B" stroke-width="1.8" fill="none"/>
<rect x="470.5" y="484.9" width="60.6" height="173.5" fill="#fff" stroke="#2a2a2a" stroke-width="1.15"/>
<path d="M474.5 498.45H505.5" stroke="#0872C6" stroke-width="2.35"/>
<circle cx="490" cy="498.45" r="2.85" stroke="#0872C6" stroke-width="1.3" fill="#0872C6" fill-opacity="0" stroke-linejoin="miter"/>
<text x="509.2" y="499.65" font-size="15" fill="#000" stroke="#000" stroke-width="0.2">Q<tspan dy="7.5" font-size="10.8">1</tspan></text>
<path d="M474.5 522.75H505.5" stroke="#FF4A00" stroke-width="2.35"/>
<path d="M490 518.55L492.9 522.75L490 526.95L487.1 522.75Z" stroke="#FF4A00" stroke-width="2.5" fill="#FF4A00" fill-opacity="0.5" stroke-linejoin="miter"/>
<text x="509.2" y="523.95" font-size="15" fill="#000" stroke="#000" stroke-width="0.2">Q<tspan dy="7.5" font-size="10.8">2</tspan></text>
<path d="M474.5 547.05H505.5" stroke="#FFAA00" stroke-width="2.35"/>
<rect x="487.9" y="544.95" width="4.2" height="4.2" stroke="#FFAA00" stroke-width="2.5" fill="#FFAA00" fill-opacity="0.5" stroke-linejoin="miter"/>
<text x="509.2" y="548.25" font-size="15" fill="#000" stroke="#000" stroke-width="0.2">Q<tspan dy="7.5" font-size="10.8">3</tspan></text>
<path d="M474.5 571.35H505.5" stroke="#9020A0" stroke-width="2.35"/>
<path d="M486.65 569.42L493.35 569.42L490 575.22Z" stroke="#9020A0" stroke-width="2.2" fill="#9020A0" fill-opacity="0.5" stroke-linejoin="miter"/>
<text x="509.2" y="572.55" font-size="15" fill="#000" stroke="#000" stroke-width="0.2">Q<tspan dy="7.5" font-size="10.8">4</tspan></text>
<path d="M474.5 595.65H505.5" stroke="#5AAE10" stroke-width="2.35"/>
<path d="M486.65 597.58L493.35 597.58L490 591.78Z" stroke="#5AAE10" stroke-width="2.2" fill="#5AAE10" fill-opacity="0.5" stroke-linejoin="miter"/>
<text x="509.2" y="596.85" font-size="15" fill="#000" stroke="#000" stroke-width="0.2">Q<tspan dy="7.5" font-size="10.8">5</tspan></text>
<path d="M474.5 619.95H505.5" stroke="#10BFF5" stroke-width="2.35"/>
<circle cx="490" cy="619.95" r="2.95" fill="#10BFF5"/>
<text x="509.2" y="621.15" font-size="15" fill="#000" stroke="#000" stroke-width="0.2">Q<tspan dy="7.5" font-size="10.8">6</tspan></text>
<path d="M474.5 644.25H505.5" stroke="#C4002B" stroke-width="2.35"/>
<path d="M487.7 641.95L492.3 646.55M487.7 646.55L492.3 641.95" stroke="#C4002B" stroke-width="1.8" fill="none"/>
<text x="509.2" y="645.45" font-size="15" fill="#000" stroke="#000" stroke-width="0.2">Q<tspan dy="7.5" font-size="10.8">7</tspan></text>
<path d="M116.8 1264.2v-4.5M116.8 916.4v4.5M91.15 1264.2h4.5M539.25 1264.2h-4.5M193.6 1264.2v-4.5M193.6 916.4v4.5M91.15 1194.64h4.5M539.25 1194.64h-4.5M270.4 1264.2v-4.5M270.4 916.4v4.5M91.15 1125.08h4.5M539.25 1125.08h-4.5M347.2 1264.2v-4.5M347.2 916.4v4.5M91.15 1055.52h4.5M539.25 1055.52h-4.5M424 1264.2v-4.5M424 916.4v4.5M91.15 985.96h4.5M539.25 985.96h-4.5M500.8 1264.2v-4.5M500.8 916.4v4.5M91.15 916.4h4.5M539.25 916.4h-4.5" stroke="#2a2a2a" stroke-width="1.1" fill="none"/>
<rect x="91.15" y="916.4" width="448.1" height="347.8" fill="none" stroke="#2a2a2a" stroke-width="1.25"/>
<g font-size="18" fill="#000" stroke="#000" stroke-width="0.3">
<text x="116.8" y="1289.5" text-anchor="middle">0</text>
<text x="84.15" y="1271.3" text-anchor="end">0</text>
<text x="193.6" y="1289.5" text-anchor="middle">0.2</text>
<text x="84.15" y="1201.74" text-anchor="end">0.2</text>
<text x="270.4" y="1289.5" text-anchor="middle">0.4</text>
<text x="84.15" y="1132.18" text-anchor="end">0.4</text>
<text x="347.2" y="1289.5" text-anchor="middle">0.6</text>
<text x="84.15" y="1062.62" text-anchor="end">0.6</text>
<text x="424" y="1289.5" text-anchor="middle">0.8</text>
<text x="84.15" y="993.06" text-anchor="end">0.8</text>
<text x="500.8" y="1289.5" text-anchor="middle">1</text>
<text x="84.15" y="923.5" text-anchor="end">1</text>
</g>
<text x="315.2" y="1313.5" font-size="20.3" fill="#000" stroke="#000" stroke-width="0.3" text-anchor="middle">Normalized Gap (g/H)</text>
<text transform="translate(50.5 1091.2) rotate(-90)" font-size="20.47" fill="#000" stroke="#000" stroke-width="0.3" text-anchor="middle">Sensitivity (μm/cP)</text>
<text x="305" y="907.7" font-size="20.8" font-weight="bold" fill="#000" stroke="#000" stroke-width="0.25" text-anchor="middle">AR 5:1</text>
<text x="10.6" y="910" font-size="22.5" letter-spacing="0.3" font-weight="bold" fill="#000" stroke="#000" stroke-width="0.25">(c)</text>
<polyline points="129.6,1224.62 142.4,1223.44 155.2,1222.36 168,1221.94 180.8,1223.44 193.6,1224.72 270.4,1237.42 347.2,1246.15 424,1250.36 500.8,1252.76" fill="none" stroke="#0872C6" stroke-width="2.35" stroke-linejoin="round"/>
<circle cx="129.6" cy="1224.62" r="2.85" stroke="#0872C6" stroke-width="1.3" fill="#0872C6" fill-opacity="0" stroke-linejoin="miter"/><circle cx="142.4" cy="1223.44" r="2.85" stroke="#0872C6" stroke-width="1.3" fill="#0872C6" fill-opacity="0" stroke-linejoin="miter"/><circle cx="155.2" cy="1222.36" r="2.85" stroke="#0872C6" stroke-width="1.3" fill="#0872C6" fill-opacity="0" stroke-linejoin="miter"/><circle cx="168" cy="1221.94" r="2.85" stroke="#0872C6" stroke-width="1.3" fill="#0872C6" fill-opacity="0" stroke-linejoin="miter"/><circle cx="180.8" cy="1223.44" r="2.85" stroke="#0872C6" stroke-width="1.3" fill="#0872C6" fill-opacity="0" stroke-linejoin="miter"/><circle cx="193.6" cy="1224.72" r="2.85" stroke="#0872C6" stroke-width="1.3" fill="#0872C6" fill-opacity="0" stroke-linejoin="miter"/><circle cx="270.4" cy="1237.42" r="2.85" stroke="#0872C6" stroke-width="1.3" fill="#0872C6" fill-opacity="0" stroke-linejoin="miter"/><circle cx="347.2" cy="1246.15" r="2.85" stroke="#0872C6" stroke-width="1.3" fill="#0872C6" fill-opacity="0" stroke-linejoin="miter"/><circle cx="424" cy="1250.36" r="2.85" stroke="#0872C6" stroke-width="1.3" fill="#0872C6" fill-opacity="0" stroke-linejoin="miter"/><circle cx="500.8" cy="1252.76" r="2.85" stroke="#0872C6" stroke-width="1.3" fill="#0872C6" fill-opacity="0" stroke-linejoin="miter"/>
<polyline points="129.6,1185.04 142.4,1182.68 155.2,1180.52 168,1179.68 180.8,1182.68 193.6,1185.25 270.4,1210.15 347.2,1227.61 424,1236.03 500.8,1240.83" fill="none" stroke="#FF4A00" stroke-width="2.35" stroke-linejoin="round"/>
<path d="M129.6 1180.84L132.5 1185.04L129.6 1189.24L126.7 1185.04Z" stroke="#FF4A00" stroke-width="2.5" fill="#FF4A00" fill-opacity="0.5" stroke-linejoin="miter"/><path d="M142.4 1178.48L145.3 1182.68L142.4 1186.88L139.5 1182.68Z" stroke="#FF4A00" stroke-width="2.5" fill="#FF4A00" fill-opacity="0.5" stroke-linejoin="miter"/><path d="M155.2 1176.32L158.1 1180.52L155.2 1184.72L152.3 1180.52Z" stroke="#FF4A00" stroke-width="2.5" fill="#FF4A00" fill-opacity="0.5" stroke-linejoin="miter"/><path d="M168 1175.48L170.9 1179.68L168 1183.88L165.1 1179.68Z" stroke="#FF4A00" stroke-width="2.5" fill="#FF4A00" fill-opacity="0.5" stroke-linejoin="miter"/><path d="M180.8 1178.48L183.7 1182.68L180.8 1186.88L177.9 1182.68Z" stroke="#FF4A00" stroke-width="2.5" fill="#FF4A00" fill-opacity="0.5" stroke-linejoin="miter"/><path d="M193.6 1181.05L196.5 1185.25L193.6 1189.45L190.7 1185.25Z" stroke="#FF4A00" stroke-width="2.5" fill="#FF4A00" fill-opacity="0.5" stroke-linejoin="miter"/><path d="M270.4 1205.95L273.3 1210.15L270.4 1214.35L267.5 1210.15Z" stroke="#FF4A00" stroke-width="2.5" fill="#FF4A00" fill-opacity="0.5" stroke-linejoin="miter"/><path d="M347.2 1223.41L350.1 1227.61L347.2 1231.81L344.3 1227.61Z" stroke="#FF4A00" stroke-width="2.5" fill="#FF4A00" fill-opacity="0.5" stroke-linejoin="miter"/><path d="M424 1231.83L426.9 1236.03L424 1240.23L421.1 1236.03Z" stroke="#FF4A00" stroke-width="2.5" fill="#FF4A00" fill-opacity="0.5" stroke-linejoin="miter"/><path d="M500.8 1236.63L503.7 1240.83L500.8 1245.03L497.9 1240.83Z" stroke="#FF4A00" stroke-width="2.5" fill="#FF4A00" fill-opacity="0.5" stroke-linejoin="miter"/>
<polyline points="129.6,1144.49 142.4,1141.91 155.2,1138.68 168,1137.43 180.8,1141.91 193.6,1145.77 270.4,1182.88 347.2,1209.07 424,1221.7 500.8,1228.9" fill="none" stroke="#FFAA00" stroke-width="2.35" stroke-linejoin="round"/>
<rect x="127.5" y="1142.39" width="4.2" height="4.2" stroke="#FFAA00" stroke-width="2.5" fill="#FFAA00" fill-opacity="0.5" stroke-linejoin="miter"/><rect x="140.3" y="1139.81" width="4.2" height="4.2" stroke="#FFAA00" stroke-width="2.5" fill="#FFAA00" fill-opacity="0.5" stroke-linejoin="miter"/><rect x="153.1" y="1136.58" width="4.2" height="4.2" stroke="#FFAA00" stroke-width="2.5" fill="#FFAA00" fill-opacity="0.5" stroke-linejoin="miter"/><rect x="165.9" y="1135.33" width="4.2" height="4.2" stroke="#FFAA00" stroke-width="2.5" fill="#FFAA00" fill-opacity="0.5" stroke-linejoin="miter"/><rect x="178.7" y="1139.81" width="4.2" height="4.2" stroke="#FFAA00" stroke-width="2.5" fill="#FFAA00" fill-opacity="0.5" stroke-linejoin="miter"/><rect x="191.5" y="1143.67" width="4.2" height="4.2" stroke="#FFAA00" stroke-width="2.5" fill="#FFAA00" fill-opacity="0.5" stroke-linejoin="miter"/><rect x="268.3" y="1180.78" width="4.2" height="4.2" stroke="#FFAA00" stroke-width="2.5" fill="#FFAA00" fill-opacity="0.5" stroke-linejoin="miter"/><rect x="345.1" y="1206.97" width="4.2" height="4.2" stroke="#FFAA00" stroke-width="2.5" fill="#FFAA00" fill-opacity="0.5" stroke-linejoin="miter"/><rect x="421.9" y="1219.6" width="4.2" height="4.2" stroke="#FFAA00" stroke-width="2.5" fill="#FFAA00" fill-opacity="0.5" stroke-linejoin="miter"/><rect x="498.7" y="1226.8" width="4.2" height="4.2" stroke="#FFAA00" stroke-width="2.5" fill="#FFAA00" fill-opacity="0.5" stroke-linejoin="miter"/>
<polyline points="129.6,1105.08 142.4,1101.15 155.2,1096.84 168,1095.97 180.8,1101.15 193.6,1106.99 270.4,1155.62 347.2,1190.54 424,1207.37 500.8,1216.97" fill="none" stroke="#9020A0" stroke-width="2.35" stroke-linejoin="round"/>
<path d="M126.25 1103.15L132.95 1103.15L129.6 1108.95Z" stroke="#9020A0" stroke-width="2.2" fill="#9020A0" fill-opacity="0.5" stroke-linejoin="miter"/><path d="M139.05 1099.22L145.75 1099.22L142.4 1105.02Z" stroke="#9020A0" stroke-width="2.2" fill="#9020A0" fill-opacity="0.5" stroke-linejoin="miter"/><path d="M151.85 1094.91L158.55 1094.91L155.2 1100.71Z" stroke="#9020A0" stroke-width="2.2" fill="#9020A0" fill-opacity="0.5" stroke-linejoin="miter"/><path d="M164.65 1094.04L171.35 1094.04L168 1099.84Z" stroke="#9020A0" stroke-width="2.2" fill="#9020A0" fill-opacity="0.5" stroke-linejoin="miter"/><path d="M177.45 1099.22L184.15 1099.22L180.8 1105.02Z" stroke="#9020A0" stroke-width="2.2" fill="#9020A0" fill-opacity="0.5" stroke-linejoin="miter"/><path d="M190.25 1105.06L196.95 1105.06L193.6 1110.86Z" stroke="#9020A0" stroke-width="2.2" fill="#9020A0" fill-opacity="0.5" stroke-linejoin="miter"/><path d="M267.05 1153.69L273.75 1153.69L270.4 1159.49Z" stroke="#9020A0" stroke-width="2.2" fill="#9020A0" fill-opacity="0.5" stroke-linejoin="miter"/><path d="M343.85 1188.61L350.55 1188.61L347.2 1194.41Z" stroke="#9020A0" stroke-width="2.2" fill="#9020A0" fill-opacity="0.5" stroke-linejoin="miter"/><path d="M420.65 1205.44L427.35 1205.44L424 1211.24Z" stroke="#9020A0" stroke-width="2.2" fill="#9020A0" fill-opacity="0.5" stroke-linejoin="miter"/><path d="M497.45 1215.04L504.15 1215.04L500.8 1220.84Z" stroke="#9020A0" stroke-width="2.2" fill="#9020A0" fill-opacity="0.5" stroke-linejoin="miter"/>
<polyline points="129.6,1065.4 142.4,1060.39 155.2,1055 168,1052.91 180.8,1060.39 193.6,1066.82 270.4,1128.35 347.2,1172 424,1193.04 500.8,1205.04" fill="none" stroke="#5AAE10" stroke-width="2.35" stroke-linejoin="round"/>
<path d="M126.25 1067.33L132.95 1067.33L129.6 1061.53Z" stroke="#5AAE10" stroke-width="2.2" fill="#5AAE10" fill-opacity="0.5" stroke-linejoin="miter"/><path d="M139.05 1062.32L145.75 1062.32L142.4 1056.52Z" stroke="#5AAE10" stroke-width="2.2" fill="#5AAE10" fill-opacity="0.5" stroke-linejoin="miter"/><path d="M151.85 1056.93L158.55 1056.93L155.2 1051.13Z" stroke="#5AAE10" stroke-width="2.2" fill="#5AAE10" fill-opacity="0.5" stroke-linejoin="miter"/><path d="M164.65 1054.84L171.35 1054.84L168 1049.04Z" stroke="#5AAE10" stroke-width="2.2" fill="#5AAE10" fill-opacity="0.5" stroke-linejoin="miter"/><path d="M177.45 1062.32L184.15 1062.32L180.8 1056.52Z" stroke="#5AAE10" stroke-width="2.2" fill="#5AAE10" fill-opacity="0.5" stroke-linejoin="miter"/><path d="M190.25 1068.75L196.95 1068.75L193.6 1062.95Z" stroke="#5AAE10" stroke-width="2.2" fill="#5AAE10" fill-opacity="0.5" stroke-linejoin="miter"/><path d="M267.05 1130.28L273.75 1130.28L270.4 1124.48Z" stroke="#5AAE10" stroke-width="2.2" fill="#5AAE10" fill-opacity="0.5" stroke-linejoin="miter"/><path d="M343.85 1173.93L350.55 1173.93L347.2 1168.13Z" stroke="#5AAE10" stroke-width="2.2" fill="#5AAE10" fill-opacity="0.5" stroke-linejoin="miter"/><path d="M420.65 1194.97L427.35 1194.97L424 1189.17Z" stroke="#5AAE10" stroke-width="2.2" fill="#5AAE10" fill-opacity="0.5" stroke-linejoin="miter"/><path d="M497.45 1206.97L504.15 1206.97L500.8 1201.17Z" stroke="#5AAE10" stroke-width="2.2" fill="#5AAE10" fill-opacity="0.5" stroke-linejoin="miter"/>
<polyline points="129.6,1026.72 142.4,1019.63 155.2,1013.16 168,1010.65 180.8,1019.63 193.6,1027.35 270.4,1101.08 347.2,1153.46 424,1178.71 500.8,1193.11" fill="none" stroke="#10BFF5" stroke-width="2.35" stroke-linejoin="round"/>
<circle cx="129.6" cy="1026.72" r="2.95" fill="#10BFF5"/><circle cx="142.4" cy="1019.63" r="2.95" fill="#10BFF5"/><circle cx="155.2" cy="1013.16" r="2.95" fill="#10BFF5"/><circle cx="168" cy="1010.65" r="2.95" fill="#10BFF5"/><circle cx="180.8" cy="1019.63" r="2.95" fill="#10BFF5"/><circle cx="193.6" cy="1027.35" r="2.95" fill="#10BFF5"/><circle cx="270.4" cy="1101.08" r="2.95" fill="#10BFF5"/><circle cx="347.2" cy="1153.46" r="2.95" fill="#10BFF5"/><circle cx="424" cy="1178.71" r="2.95" fill="#10BFF5"/><circle cx="500.8" cy="1193.11" r="2.95" fill="#10BFF5"/>
<polyline points="129.6,987.14 142.4,978.86 155.2,971.32 168,968.4 180.8,978.86 193.6,987.87 270.4,1073.81 347.2,1134.92 424,1164.38 500.8,1181.18" fill="none" stroke="#C4002B" stroke-width="2.35" stroke-linejoin="round"/>
<path d="M127.3 984.84L131.9 989.44M127.3 989.44L131.9 984.84" stroke="#C4002B" stroke-width="1.8" fill="none"/><path d="M140.1 976.56L144.7 981.16M140.1 981.16L144.7 976.56" stroke="#C4002B" stroke-width="1.8" fill="none"/><path d="M152.9 969.02L157.5 973.62M152.9 973.62L157.5 969.02" stroke="#C4002B" stroke-width="1.8" fill="none"/><path d="M165.7 966.1L170.3 970.7M165.7 970.7L170.3 966.1" stroke="#C4002B" stroke-width="1.8" fill="none"/><path d="M178.5 976.56L183.1 981.16M178.5 981.16L183.1 976.56" stroke="#C4002B" stroke-width="1.8" fill="none"/><path d="M191.3 985.57L195.9 990.17M191.3 990.17L195.9 985.57" stroke="#C4002B" stroke-width="1.8" fill="none"/><path d="M268.1 1071.51L272.7 1076.11M268.1 1076.11L272.7 1071.51" stroke="#C4002B" stroke-width="1.8" fill="none"/><path d="M344.9 1132.62L349.5 1137.22M344.9 1137.22L349.5 1132.62" stroke="#C4002B" stroke-width="1.8" fill="none"/><path d="M421.7 1162.08L426.3 1166.68M421.7 1166.68L426.3 1162.08" stroke="#C4002B" stroke-width="1.8" fill="none"/><path d="M498.5 1178.88L503.1 1183.48M498.5 1183.48L503.1 1178.88" stroke="#C4002B" stroke-width="1.8" fill="none"/>
<rect x="470.5" y="924.9" width="60.6" height="173.5" fill="#fff" stroke="#2a2a2a" stroke-width="1.15"/>
<path d="M474.5 938.35H505.5" stroke="#0872C6" stroke-width="2.35"/>
<circle cx="490" cy="938.35" r="2.85" stroke="#0872C6" stroke-width="1.3" fill="#0872C6" fill-opacity="0" stroke-linejoin="miter"/>
<text x="509.2" y="939.55" font-size="15" fill="#000" stroke="#000" stroke-width="0.2">Q<tspan dy="7.5" font-size="10.8">1</tspan></text>
<path d="M474.5 962.65H505.5" stroke="#FF4A00" stroke-width="2.35"/>
<path d="M490 958.45L492.9 962.65L490 966.85L487.1 962.65Z" stroke="#FF4A00" stroke-width="2.5" fill="#FF4A00" fill-opacity="0.5" stroke-linejoin="miter"/>
<text x="509.2" y="963.85" font-size="15" fill="#000" stroke="#000" stroke-width="0.2">Q<tspan dy="7.5" font-size="10.8">2</tspan></text>
<path d="M474.5 986.95H505.5" stroke="#FFAA00" stroke-width="2.35"/>
<rect x="487.9" y="984.85" width="4.2" height="4.2" stroke="#FFAA00" stroke-width="2.5" fill="#FFAA00" fill-opacity="0.5" stroke-linejoin="miter"/>
<text x="509.2" y="988.15" font-size="15" fill="#000" stroke="#000" stroke-width="0.2">Q<tspan dy="7.5" font-size="10.8">3</tspan></text>
<path d="M474.5 1011.25H505.5" stroke="#9020A0" stroke-width="2.35"/>
<path d="M486.65 1009.32L493.35 1009.32L490 1015.12Z" stroke="#9020A0" stroke-width="2.2" fill="#9020A0" fill-opacity="0.5" stroke-linejoin="miter"/>
<text x="509.2" y="1012.45" font-size="15" fill="#000" stroke="#000" stroke-width="0.2">Q<tspan dy="7.5" font-size="10.8">4</tspan></text>
<path d="M474.5 1035.55H505.5" stroke="#5AAE10" stroke-width="2.35"/>
<path d="M486.65 1037.48L493.35 1037.48L490 1031.68Z" stroke="#5AAE10" stroke-width="2.2" fill="#5AAE10" fill-opacity="0.5" stroke-linejoin="miter"/>
<text x="509.2" y="1036.75" font-size="15" fill="#000" stroke="#000" stroke-width="0.2">Q<tspan dy="7.5" font-size="10.8">5</tspan></text>
<path d="M474.5 1059.85H505.5" stroke="#10BFF5" stroke-width="2.35"/>
<circle cx="490" cy="1059.85" r="2.95" fill="#10BFF5"/>
<text x="509.2" y="1061.05" font-size="15" fill="#000" stroke="#000" stroke-width="0.2">Q<tspan dy="7.5" font-size="10.8">6</tspan></text>
<path d="M474.5 1084.15H505.5" stroke="#C4002B" stroke-width="2.35"/>
<path d="M487.7 1081.85L492.3 1086.45M487.7 1086.45L492.3 1081.85" stroke="#C4002B" stroke-width="1.8" fill="none"/>
<text x="509.2" y="1085.35" font-size="15" fill="#000" stroke="#000" stroke-width="0.2">Q<tspan dy="7.5" font-size="10.8">7</tspan></text>
</svg>
</body></html>
